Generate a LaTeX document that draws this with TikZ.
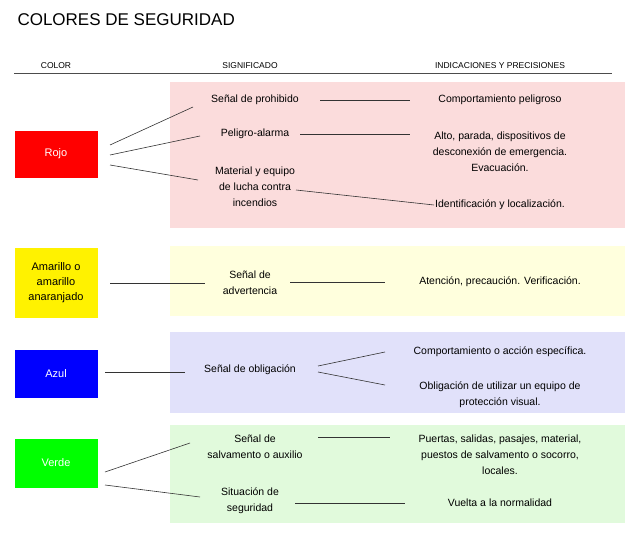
\documentclass[tikz,border=0pt]{standalone}
\usepackage{fontspec}
\setmainfont{Liberation Sans}
\begin{document}
\begin{tikzpicture}[x=1pt,y=-1pt,
  lbl/.style={font=\fontsize{10.5}{16}\selectfont,align=center,inner sep=1pt},
  hdr/.style={font=\fontsize{8.5}{10}\selectfont},
  cbox/.style={minimum width=83pt,font=\fontsize{11}{15}\selectfont,align=center},
  con/.style={draw=black!80,line width=0.6pt}]
\useasboundingbox (0,0) rectangle (640,543);
\definecolor{bred}{HTML}{FBDCDC}\definecolor{byel}{HTML}{FFFFDD}
\definecolor{bblu}{HTML}{E1E1FA}\definecolor{bgrn}{HTML}{E1FADC}
\node[anchor=west,font=\fontsize{17}{20}\selectfont] (t) at (14,20) {COLORES DE SEGURIDAD};
\node[hdr] (h1) at (56,66) {COLOR};
\node[hdr] (h2) at (250,66) {SIGNIFICADO};
\node[hdr] (h3) at (500,66) {INDICACIONES Y PRECISIONES};
\draw[black!70,line width=0.8pt] (14,73) -- (612,73);
\fill[bred] (170,82) rectangle (625,228);
\fill[byel] (170,246) rectangle (625,316);
\fill[bblu] (170,332) rectangle (625,413);
\fill[bgrn] (170,425) rectangle (625,523);
% Rojo
\node[cbox,fill=red,text=white,minimum height=47pt] (rojo) at (56,154) {Rojo};
\node[lbl] (r1) at (255,100) {Señal de prohibido};
\node[lbl] (r2) at (255,134) {Peligro-alarma};
\node[lbl] (r3) at (255,187) {Material y equipo\\de lucha contra\\incendios};
\node[lbl] (i1) at (500,100) {Comportamiento peligroso};
\node[lbl] (i2) at (500,152) {Alto, parada, dispositivos de\\desconexión de emergencia.\\Evacuación.};
\node[lbl] (i3) at (500,205) {Identificación y localización.};
\coordinate (ra) at (110,145);\coordinate (rb) at (110,155);\coordinate (rc) at (110,165);
\draw[con] (ra) -- (193,107);\draw[con] (rb) -- (200,136);\draw[con] (rc) -- (198,180);
\draw[con] (320,100) -- (410,100);
\draw[con] (300,134) -- (410,134);
\draw[con] (296,190) -- (i3.west);
% Amarillo
\node[cbox,fill=yellow,minimum height=70pt] (am) at (56,283) {Amarillo o\\amarillo\\anaranjado};
\node[lbl] (a1) at (250,283) {Señal de\\advertencia};
\node[lbl] (ai) at (500,282) {Atención, precaución. Verificación.};
\draw[con] (110,283) -- (205,283);
\draw[con] (290,282) -- (385,282);
% Azul
\node[cbox,fill=blue,text=white,minimum height=48pt] (az) at (56,374) {Azul};
\node[lbl] (b1) at (250,370) {Señal de obligación};
\node[lbl] (bi1) at (500,352) {Comportamiento o acción específica.};
\node[lbl] (bi2) at (500,395) {Obligación de utilizar un equipo de\\protección visual.};
\draw[con] (105,372) -- (185,372);
\draw[con] (318,366) -- (385,352);\draw[con] (318,372) -- (385,385);
% Verde
\node[cbox,fill=green,text=white,minimum height=49pt] (vd) at (56,463) {Verde};
\node[lbl] (g1) at (255,447) {Señal de\\salvamento o auxilio};
\node[lbl] (g2) at (250,501) {Situación de\\seguridad};
\node[lbl] (gi1) at (500,455) {Puertas, salidas, pasajes, material,\\puestos de salvamento o socorro,\\locales.};
\node[lbl] (gi2) at (500,503) {Vuelta a la normalidad};
\draw[con] (105,472) -- (190,443);\draw[con] (105,485) -- (200,497);
\draw[con] (318,437) -- (390,437);\draw[con] (295,503) -- (405,503);
\end{tikzpicture}
\end{document}
